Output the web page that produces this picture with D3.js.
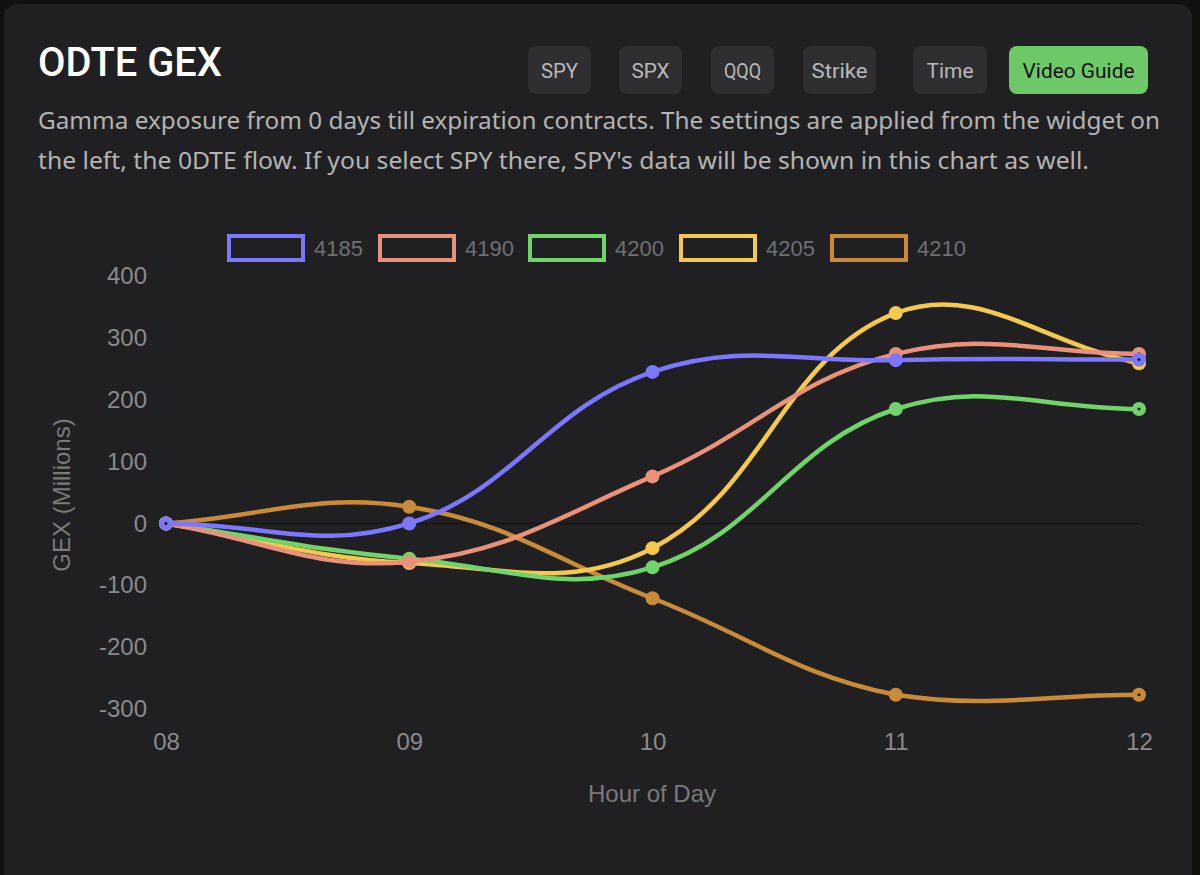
<!DOCTYPE html>
<html><head><meta charset="utf-8">
<script src="https://cdn.jsdelivr.net/npm/d3@7"></script>
<style>
html,body{margin:0;padding:0;background:#0f100f;}
svg{display:block;}
</style></head>
<body>
<svg id="c" width="1200" height="875"></svg>
<script>
const hours = ["08","09","10","11","12"];
const strikes = ["4185","4190","4200","4205","4210"];
const gex4185 = [0, 0, 245, 264, 265];
const gex4190 = [0, -62, 76, 274, 274];
const gex4200 = [0, -57, -71, 185, 185];
const gex4205 = [0, -64, -40, 340, 259];
const gex4210 = [0, 27, -121, -277, -277];
const yTicks = [400, 300, 200, 100, 0, -100, -200, -300];
const buttons = ["SPY","SPX","QQQ","Strike","Time","Video Guide"];
const colors = ["#7b78ff","#ea917a","#71d46b","#f5c94e","#c98b37"];
const series = [gex4185, gex4190, gex4200, gex4205, gex4210];

const svg = d3.select("#c");
// panel
svg.append("rect").attr("x",4).attr("y",4).attr("width",1188).attr("height",900)
  .attr("rx",13).attr("fill","#202022");

// title
svg.append("text").attr("x",38).attr("y",76).text("ODTE GEX")
  .attr("font-family","Roboto, 'DejaVu Sans', sans-serif").attr("font-weight",500)
  .attr("font-size",41).attr("fill","#ffffff")
  .attr("textLength",184).attr("lengthAdjust","spacingAndGlyphs");

// buttons
const btnX = [528,619,711,803,913,1009];
const btnW = [63,63,63,73,74,139];
const btnTW = [37,38,37,56,47,112];
buttons.forEach((b,i)=>{
  const g = svg.append("g");
  const green = b==="Video Guide";
  g.append("rect").attr("x",btnX[i]).attr("y",46).attr("width",btnW[i]).attr("height",48)
    .attr("rx",8).attr("fill", green ? "#6dc967" : "#2f2f31");
  g.append("text").attr("x",btnX[i]+btnW[i]/2).attr("y",78).attr("text-anchor","middle")
    .text(b).attr("font-family","Roboto, sans-serif").attr("font-size",21)
    .attr("fill", green ? "#101010" : "#b9b9b9")
    .attr("textLength",btnTW[i]).attr("lengthAdjust","spacingAndGlyphs");
});

// description
const desc = ["Gamma exposure from 0 days till expiration contracts. The settings are applied from the widget on",
              "the left, the 0DTE flow. If you select SPY there, SPY's data will be shown in this chart as well."];
const descW = [1122, 1051];
desc.forEach((t,i)=>{
  svg.append("text").attr("x",38).attr("y",129+i*40).text(t)
    .attr("font-family","'Noto Sans', Inter, sans-serif").attr("font-size",23)
    .attr("fill","#b3b3b3").attr("textLength",descW[i]).attr("lengthAdjust","spacingAndGlyphs");
});

// scales
const x = d3.scalePoint().domain(hours).range([166,1139]);
const y = d3.scaleLinear().domain([-300,400]).range([709,276]);

// zero line
svg.append("line").attr("x1",x.range()[0]).attr("x2",x.range()[1])
  .attr("y1",y(0)).attr("y2",y(0)).attr("stroke","#161617").attr("stroke-width",2);

const tickFont = "'Liberation Sans', Arial, Helvetica, sans-serif";
const yAxis = svg.append("g").attr("transform",`translate(166,0)`)
  .call(d3.axisLeft(y).tickValues(yTicks).tickFormat(d=>String(d)).tickSize(0).tickPadding(19));
yAxis.select(".domain").remove();
yAxis.selectAll("text").attr("font-family",tickFont).attr("font-size",24).attr("fill","#8a8a8c");

const xAxis = svg.append("g").attr("transform",`translate(0,709)`)
  .call(d3.axisBottom(x).tickSize(0).tickPadding(24));
xAxis.select(".domain").remove();
xAxis.selectAll("text").attr("font-family",tickFont).attr("font-size",24).attr("fill","#8a8a8c");

svg.append("text").attr("transform","translate(70,495) rotate(-90)").attr("text-anchor","middle")
  .text("GEX (Millions)").attr("font-family",tickFont).attr("font-size",24).attr("fill","#7a7a7c");
svg.append("text").attr("x",652).attr("y",802).attr("text-anchor","middle")
  .text("Hour of Day").attr("font-family",tickFont).attr("font-size",24).attr("fill","#7a7a7c");

// legend
const legX = [229,380,530,681,832];
strikes.forEach((s,i)=>{
  svg.append("rect").attr("x",legX[i]).attr("y",236).attr("width",74).attr("height",24)
    .attr("fill","none").attr("stroke",colors[i]).attr("stroke-width",4);
  svg.append("text").attr("x",legX[i]+85).attr("y",256).text(s)
    .attr("font-family",tickFont).attr("font-size",22).attr("fill","#6f6f71");
});

// chart.js style spline (tension 0.4)
function splinePath(pts){
  const t = 0.4;
  const [xmin,xmax] = x.range(); const ymin = y(400), ymax = y(-300);
  const cap = (p)=>({x:Math.max(xmin,Math.min(xmax,p.x)), y:Math.max(ymin,Math.min(ymax,p.y))});
  const ctrl = pts.map((cur,i)=>{
    const prev = pts[Math.max(0,i-1)], next = pts[Math.min(pts.length-1,i+1)];
    const d01 = Math.hypot(cur.x-prev.x,cur.y-prev.y);
    const d12 = Math.hypot(next.x-cur.x,next.y-cur.y);
    let s01 = d01/(d01+d12), s12 = d12/(d01+d12);
    if(isNaN(s01)) s01=0; if(isNaN(s12)) s12=0;
    const fa = t*s01, fb = t*s12;
    return {
      p: cap({x:cur.x - fa*(next.x-prev.x), y:cur.y - fa*(next.y-prev.y)}),
      n: cap({x:cur.x + fb*(next.x-prev.x), y:cur.y + fb*(next.y-prev.y)})
    };
  });
  const path = d3.path();
  path.moveTo(pts[0].x,pts[0].y);
  for(let i=1;i<pts.length;i++){
    path.bezierCurveTo(ctrl[i-1].n.x,ctrl[i-1].n.y,ctrl[i].p.x,ctrl[i].p.y,pts[i].x,pts[i].y);
  }
  return path.toString();
}

// draw in reverse order so first dataset is on top
const last = hours.length-1;
for(let k=series.length-1;k>=0;k--){
  const pts = series[k].map((v,i)=>({x:x(hours[i]), y:y(v), i}));
  const g = svg.append("g");
  g.append("path").attr("d",splinePath(pts)).attr("fill","none")
    .attr("stroke",colors[k]).attr("stroke-width",4.5);
  g.selectAll("circle.pt").data(pts).join("circle").attr("class","pt")
    .attr("cx",d=>d.x).attr("cy",d=>d.y).attr("r",7)
    .attr("fill",colors[k]);
  g.selectAll("circle.hole").data(pts.filter(d=>d.i===0||d.i===last)).join("circle").attr("class","hole")
    .attr("cx",d=>d.x).attr("cy",d=>d.y).attr("r",1.6).attr("fill","#202022");
}
</script>
</body></html>
